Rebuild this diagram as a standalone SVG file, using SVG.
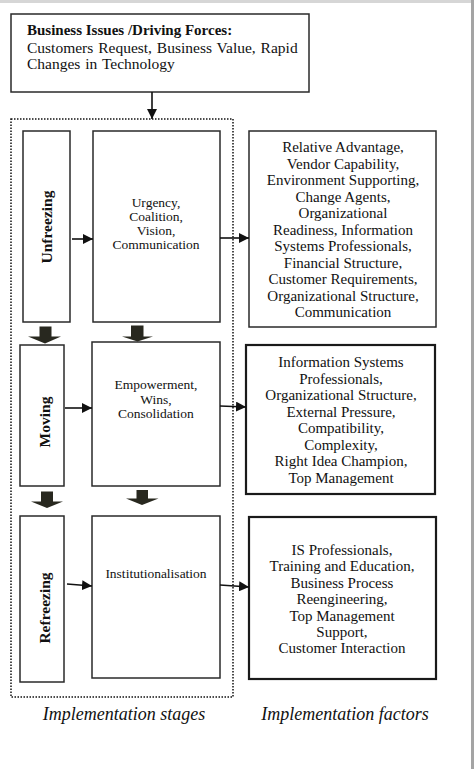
<svg xmlns="http://www.w3.org/2000/svg" width="474" height="769" viewBox="0 0 474 769">
<defs>
<style>
.box{fill:#fff;stroke:#2a2a2a;stroke-width:1.5}
.thick{fill:#fff;stroke:#1a1a1a;stroke-width:2.2}
.t{font-family:"Liberation Serif","Times New Roman",serif;fill:#111}
.f{font-size:15px;text-anchor:middle}
.m{font-size:13.5px;text-anchor:middle}
.stage{font-size:15.5px;font-weight:bold;text-anchor:middle}
.lbl{font-size:18px;font-style:italic;text-anchor:middle}
.ln{stroke:#111;stroke-width:1.6;fill:none}
.blk{fill:#28281f}
</style>
<marker id="ah" viewBox="0 0 10 10" refX="10" refY="5" markerWidth="10" markerHeight="10" markerUnits="userSpaceOnUse" orient="auto">
<path d="M0,0 L10,5 L0,10 Z" fill="#111"/>
</marker>
</defs>
<rect x="0" y="0" width="474" height="769" fill="#fff"/>
<rect x="0" y="0" width="474" height="3" fill="#d6d6d6"/>
<rect x="471" y="0" width="3" height="769" fill="#a4a4a4"/>

<g id="driving-forces">
<rect class="box" x="11" y="14" width="298" height="78"/>
<text class="t" x="27" y="35" font-size="15" font-weight="bold">Business Issues /Driving Forces:</text>
<text class="t" x="27" y="53" font-size="15.5" word-spacing="1">Customers Request, Business Value, Rapid</text>
<text class="t" x="27" y="69" font-size="15.5" word-spacing="1">Changes in Technology</text>
</g>

<g id="stages-container">
<rect x="11" y="119" width="222" height="578" fill="none" stroke="#111" stroke-width="1.5" stroke-dasharray="1.5,1.5"/>
</g>

<g id="unfreezing">
<rect class="box" x="23" y="131" width="47" height="191"/>
<text class="t stage" transform="translate(52,227) rotate(-90)" x="0" y="0">Unfreezing</text>
</g>
<g id="unfreezing-activities">
<rect class="box" x="93" y="131" width="127" height="191"/>
<text class="t m" x="156" y="207">Urgency,</text>
<text class="t m" x="156" y="221">Coalition,</text>
<text class="t m" x="156" y="235">Vision,</text>
<text class="t m" x="156" y="249">Communication</text>
</g>
<g id="unfreezing-factors">
<rect class="box" x="249" y="131" width="187" height="196"/>
<text class="t f" x="343" y="152">Relative Advantage,</text>
<text class="t f" x="343" y="168.5">Vendor Capability,</text>
<text class="t f" x="343" y="185">Environment Supporting,</text>
<text class="t f" x="343" y="201.5">Change Agents,</text>
<text class="t f" x="343" y="218">Organizational</text>
<text class="t f" x="343" y="234.5">Readiness, Information</text>
<text class="t f" x="343" y="251">Systems Professionals,</text>
<text class="t f" x="343" y="267.5">Financial Structure,</text>
<text class="t f" x="343" y="284">Customer Requirements,</text>
<text class="t f" x="343" y="300.5">Organizational Structure,</text>
<text class="t f" x="343" y="317">Communication</text>
</g>

<g id="moving">
<rect class="box" x="20" y="345" width="44" height="141"/>
<text class="t stage" transform="translate(50,422) rotate(-90)" x="0" y="0">Moving</text>
</g>
<g id="moving-activities">
<rect class="box" x="92" y="342" width="128" height="144"/>
<text class="t m" x="156" y="389">Empowerment,</text>
<text class="t m" x="156" y="403.5">Wins,</text>
<text class="t m" x="156" y="418">Consolidation</text>
</g>
<g id="moving-factors">
<rect class="thick" x="246" y="345" width="189" height="149"/>
<text class="t f" x="341" y="367">Information Systems</text>
<text class="t f" x="341" y="383.5">Professionals,</text>
<text class="t f" x="341" y="400">Organizational Structure,</text>
<text class="t f" x="341" y="416.5">External Pressure,</text>
<text class="t f" x="341" y="433">Compatibility,</text>
<text class="t f" x="341" y="449.5">Complexity,</text>
<text class="t f" x="341" y="466">Right Idea Champion,</text>
<text class="t f" x="341" y="482.5">Top Management</text>
</g>

<g id="refreezing">
<rect class="box" x="20" y="516" width="44" height="166"/>
<text class="t stage" transform="translate(50,608) rotate(-90)" x="0" y="0">Refreezing</text>
</g>
<g id="refreezing-activities">
<rect class="box" x="92" y="516" width="128" height="162"/>
<text class="t m" x="156" y="578">Institutionalisation</text>
</g>
<g id="refreezing-factors">
<rect class="thick" x="249" y="517" width="187" height="162"/>
<text class="t f" x="342" y="555">IS Professionals,</text>
<text class="t f" x="342" y="571.4">Training and Education,</text>
<text class="t f" x="342" y="587.8">Business Process</text>
<text class="t f" x="342" y="604.2">Reengineering,</text>
<text class="t f" x="342" y="620.6">Top Management</text>
<text class="t f" x="342" y="637">Support,</text>
<text class="t f" x="342" y="653.4">Customer Interaction</text>
</g>

<g id="labels">
<text class="t lbl" x="124" y="720">Implementation stages</text>
<text class="t lbl" x="345" y="720">Implementation factors</text>
</g>

<g id="connectors">
<line class="ln" x1="152" y1="92" x2="152" y2="119" marker-end="url(#ah)"/>
<line class="ln" x1="72" y1="239" x2="93" y2="239" marker-end="url(#ah)"/>
<line class="ln" x1="220" y1="238" x2="249" y2="238" marker-end="url(#ah)"/>
<line class="ln" x1="65" y1="408" x2="92" y2="408" marker-end="url(#ah)"/>
<line class="ln" x1="220" y1="406" x2="246" y2="407" marker-end="url(#ah)"/>
<line class="ln" x1="67" y1="584" x2="92" y2="586" marker-end="url(#ah)"/>
<line class="ln" x1="220" y1="585" x2="249" y2="587" marker-end="url(#ah)"/>
<polygon class="blk" points="39.5,326.5 51.5,326.5 51.5,336.5 61,336.5 45,343.5 28,336.5 39.5,336.5"/>
<polygon class="blk" points="131,325.5 143.5,325.5 143.5,336.5 153,336.5 137.5,341.5 122,336.5 131,336.5"/>
<polygon class="blk" points="41,491.5 53,491.5 53,501.5 63,501.5 47,508 31,501.5 41,501.5"/>
<polygon class="blk" points="136.5,490 148,490 148,498.5 158.5,498.5 142,505 126,498.5 136.5,498.5"/>
</g>
</svg>
